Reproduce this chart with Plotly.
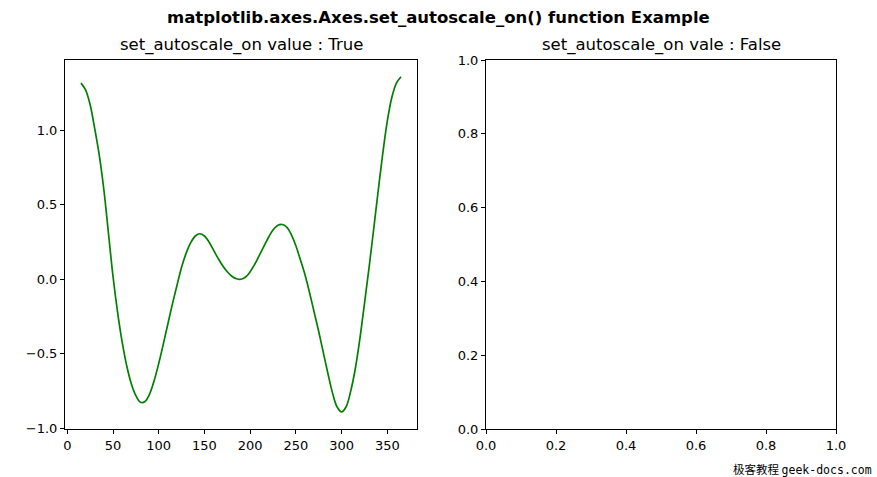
import plotly.graph_objects as go

# Data
x_vals = [15, 20, 25, 30, 35, 40, 45, 50, 55, 60, 65, 70, 75, 80, 85, 90, 95, 100,
          105, 110, 115, 120, 125, 130, 135, 140, 145, 150, 155, 160, 165, 170, 175,
          180, 185, 190, 195, 200, 205, 210, 215, 220, 225, 230, 235, 240, 245, 250,
          255, 260, 265, 270, 275, 280, 285, 290, 295, 300, 305, 310, 315, 320, 325,
          330, 335, 340, 345, 350, 355, 360, 365]
y_vals = [1.315, 1.27, 1.17, 1.01, 0.83, 0.60, 0.31, 0.02, -0.22, -0.42, -0.58, -0.70,
          -0.78, -0.825, -0.82, -0.77, -0.68, -0.565, -0.435, -0.30, -0.165, -0.04, 0.08,
          0.175, 0.245, 0.29, 0.305, 0.29, 0.25, 0.195, 0.14, 0.09, 0.05, 0.02, 0.003, 0.0,
          0.015, 0.05, 0.10, 0.16, 0.22, 0.28, 0.33, 0.36, 0.367, 0.35, 0.30, 0.225, 0.13,
          0.03, -0.09, -0.22, -0.35, -0.49, -0.63, -0.76, -0.855, -0.89, -0.855, -0.75,
          -0.60, -0.40, -0.165, 0.075, 0.33, 0.59, 0.84, 1.06, 1.22, 1.315, 1.358]

left_xticks = [0, 50, 100, 150, 200, 250, 300, 350]
left_yticks = [-1.0, -0.5, 0.0, 0.5, 1.0]
right_ticks = [0.0, 0.2, 0.4, 0.6, 0.8, 1.0]

suptitle = "matplotlib.axes.Axes.set_autoscale_on() function Example"
title_left = "set_autoscale_on value : True"
title_right = "set_autoscale_on vale : False"

W, H = 877, 477
FONT = "DejaVu Sans, sans-serif"

fig = go.Figure()
fig.add_trace(go.Scatter(x=x_vals, y=y_vals, mode="lines",
                         line=dict(color="#008000", width=1.7, shape="spline", smoothing=1.0),
                         xaxis="x", yaxis="y", showlegend=False))
fig.add_trace(go.Scatter(x=[], y=[], xaxis="x2", yaxis="y2", showlegend=False))

axis_common = dict(showline=True, linecolor="black", linewidth=1, mirror=True, ticks="outside",
                   ticklen=4, tickcolor="black", tickwidth=1, showgrid=False, zeroline=False,
                   automargin=False,
                   tickfont=dict(family=FONT, size=13, color="black"))

y0 = (H - 429) / H
y1 = (H - 60) / H
dl = [65 / W, 417 / W]
dr = [486 / W, 836 / W]

fig.update_layout(
    width=W, height=H,
    margin=dict(l=0, r=0, t=0, b=0),
    paper_bgcolor="white", plot_bgcolor="white",
    xaxis=dict(domain=dl, range=[-2.5, 382.5], tickvals=left_xticks, anchor="y", **axis_common),
    yaxis=dict(domain=[y0, y1], range=[-1.004, 1.47], tickvals=left_yticks, tickformat=".1f",
               anchor="x", **axis_common),
    xaxis2=dict(domain=dr, range=[0, 1], tickvals=right_ticks, tickformat=".1f", anchor="y2", **axis_common),
    yaxis2=dict(domain=[y0, y1], range=[0, 1], tickvals=right_ticks, tickformat=".1f", anchor="x2", **axis_common),
    annotations=[
        dict(text="<b>" + suptitle + "</b>", x=0.5, y=1 - 18 / H, xref="paper", yref="paper",
             xanchor="center", yanchor="middle", showarrow=False,
             font=dict(family=FONT, size=16.5, color="black")),
        dict(text=title_left, x=(dl[0] + dl[1]) / 2, y=1 - 45 / H, xref="paper", yref="paper",
             xanchor="center", yanchor="middle", showarrow=False,
             font=dict(family=FONT, size=16.5, color="black")),
        dict(text=title_right, x=(dr[0] + dr[1]) / 2, y=1 - 45 / H, xref="paper", yref="paper",
             xanchor="center", yanchor="middle", showarrow=False,
             font=dict(family=FONT, size=16.5, color="black")),
        dict(text="极客教程 <span style='font-family:DejaVu Sans Mono, monospace'>geek-docs.com</span>",
             x=874 / W, y=1 - 469 / H, xref="paper", yref="paper",
             xanchor="right", yanchor="middle", showarrow=False,
             font=dict(family="Noto Sans CJK SC, sans-serif", size=11.5, color="black")),
    ],
)

fig.write_html("out.html", config={"displayModeBar": False},
               post_script="document.body.style.margin='0';document.body.style.overflow='hidden';")
